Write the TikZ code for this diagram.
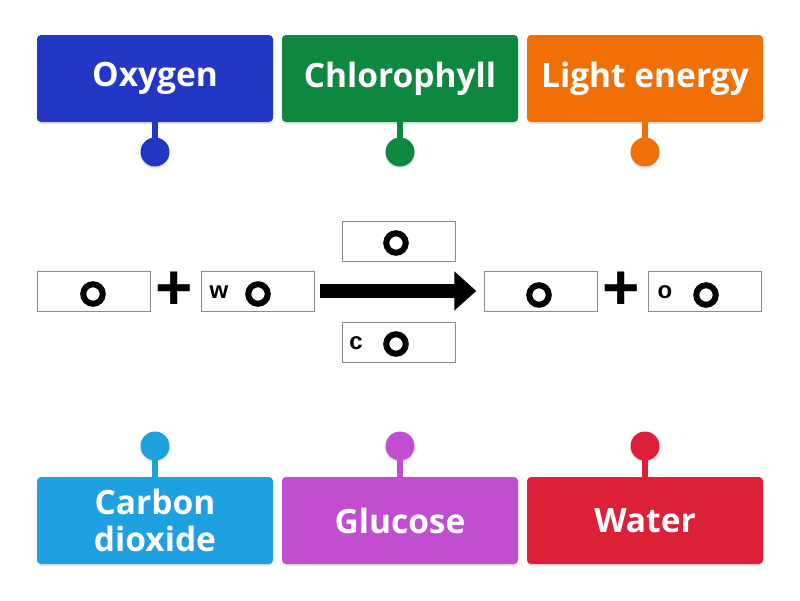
\documentclass[tikz,border=0pt]{standalone}
\usepackage{fontspec}
\setmainfont{Open Sans}
\newfontfamily\sansfont{Liberation Sans}
\usetikzlibrary{arrows.meta,shadows}

\definecolor{oxyblue}{RGB}{35,55,198}
\definecolor{chlgreen}{RGB}{14,136,62}
\definecolor{litorange}{RGB}{240,112,5}
\definecolor{carbcyan}{RGB}{30,160,225}
\definecolor{glupurple}{RGB}{193,78,208}
\definecolor{watred}{RGB}{220,32,55}

\begin{document}
\begin{tikzpicture}[x=1pt,y=-1pt,node distance=245pt,semithick]
        \tikzstyle{card}=[rectangle,rounded corners=4pt,minimum width=236pt,minimum height=87pt,inner sep=0pt,text=white,align=center,font=\fontsize{33.5}{37}\selectfont\bfseries,drop shadow={opacity=0.2,shadow xshift=0pt,shadow yshift=-2pt}]
        \tikzstyle{pin}=[circle,minimum size=29pt,inner sep=0pt,drop shadow={opacity=0.2,shadow xshift=0pt,shadow yshift=-2pt}]
        \tikzstyle{stem}=[line width=6pt]
        \tikzstyle{blank}=[rectangle,draw=black!45,thin,fill=white,minimum width=113pt,minimum height=40pt,inner sep=0pt]
        \tikzstyle{ring}=[circle,draw=black,line width=6pt,minimum size=19.5pt,inner sep=0pt]
        \tikzstyle{letter}=[inner sep=0pt,font=\sansfont\fontsize{24}{24}\selectfont\bfseries]
        \tikzstyle{plus}=[inner sep=0pt,font=\sansfont\fontsize{64}{64}\selectfont\bfseries]
        \useasboundingbox (0,0) rectangle (800,600);
        % top row
        \node[card,fill=oxyblue] (oxy) at (155,78.5) {Oxygen};
        \node[card,fill=chlgreen] (chl) [right of=oxy] {Chlorophyll};
        \node[card,fill=litorange] (lit) [right of=chl] {Light energy};
        \node[pin,fill=oxyblue] (poxy) at (155,152) {};
        \node[pin,fill=chlgreen] (pchl) [right of=poxy] {};
        \node[pin,fill=litorange] (plit) [right of=pchl] {};
        \draw[stem,oxyblue] (oxy.south) -- (poxy.center);
        \draw[stem,chlgreen] (chl.south) -- (pchl.center);
        \draw[stem,litorange] (lit.south) -- (plit.center);
        % bottom row
        \node[card,fill=carbcyan] (carb) at (155,520.5) {Carbon\\dioxide};
        \node[card,fill=glupurple] (glu) [right of=carb] {Glucose};
        \node[card,fill=watred] (wat) [right of=glu] {Water};
        \node[pin,fill=carbcyan] (pcarb) at (155,446) {};
        \node[pin,fill=glupurple] (pglu) [right of=pcarb] {};
        \node[pin,fill=watred] (pwat) [right of=pglu] {};
        \draw[stem,carbcyan] (carb.north) -- (pcarb.center);
        \draw[stem,glupurple] (glu.north) -- (pglu.center);
        \draw[stem,watred] (wat.north) -- (pwat.center);
        % equation
        \node[blank] (lhs1) at (93.5,291) {};
        \node[blank] (lhs2) at (257.5,291) {};
        \node[blank] (top) at (399,241) {};
        \node[blank] (bot) at (399,342) {};
        \node[blank] (rhs1) at (541,291) {};
        \node[blank] (rhs2) at (705,291) {};
        \node[plus] (plus1) at (174,291) {+};
        \node[plus] (plus2) at (621,291) {+};
        \node[ring] (o1) at (93,294) {};
        \node[letter] (w) at (219,292) {w};
        \node[ring] (o2) at (258,294) {};
        \node[ring] (o3) at (396,243) {};
        \node[letter] (c) at (356,343) {c};
        \node[ring] (o4) at (396,344) {};
        \node[ring] (o5) at (539,295) {};
        \node[letter] (o) at (665,292) {o};
        \node[ring] (o6) at (706,295) {};
        \draw[line width=14pt,-{Triangle[length=22pt,width=38pt]},shorten <=6pt,shorten >=8pt] (lhs2.east) -- (rhs1.west);
    \end{tikzpicture}
\end{document}
